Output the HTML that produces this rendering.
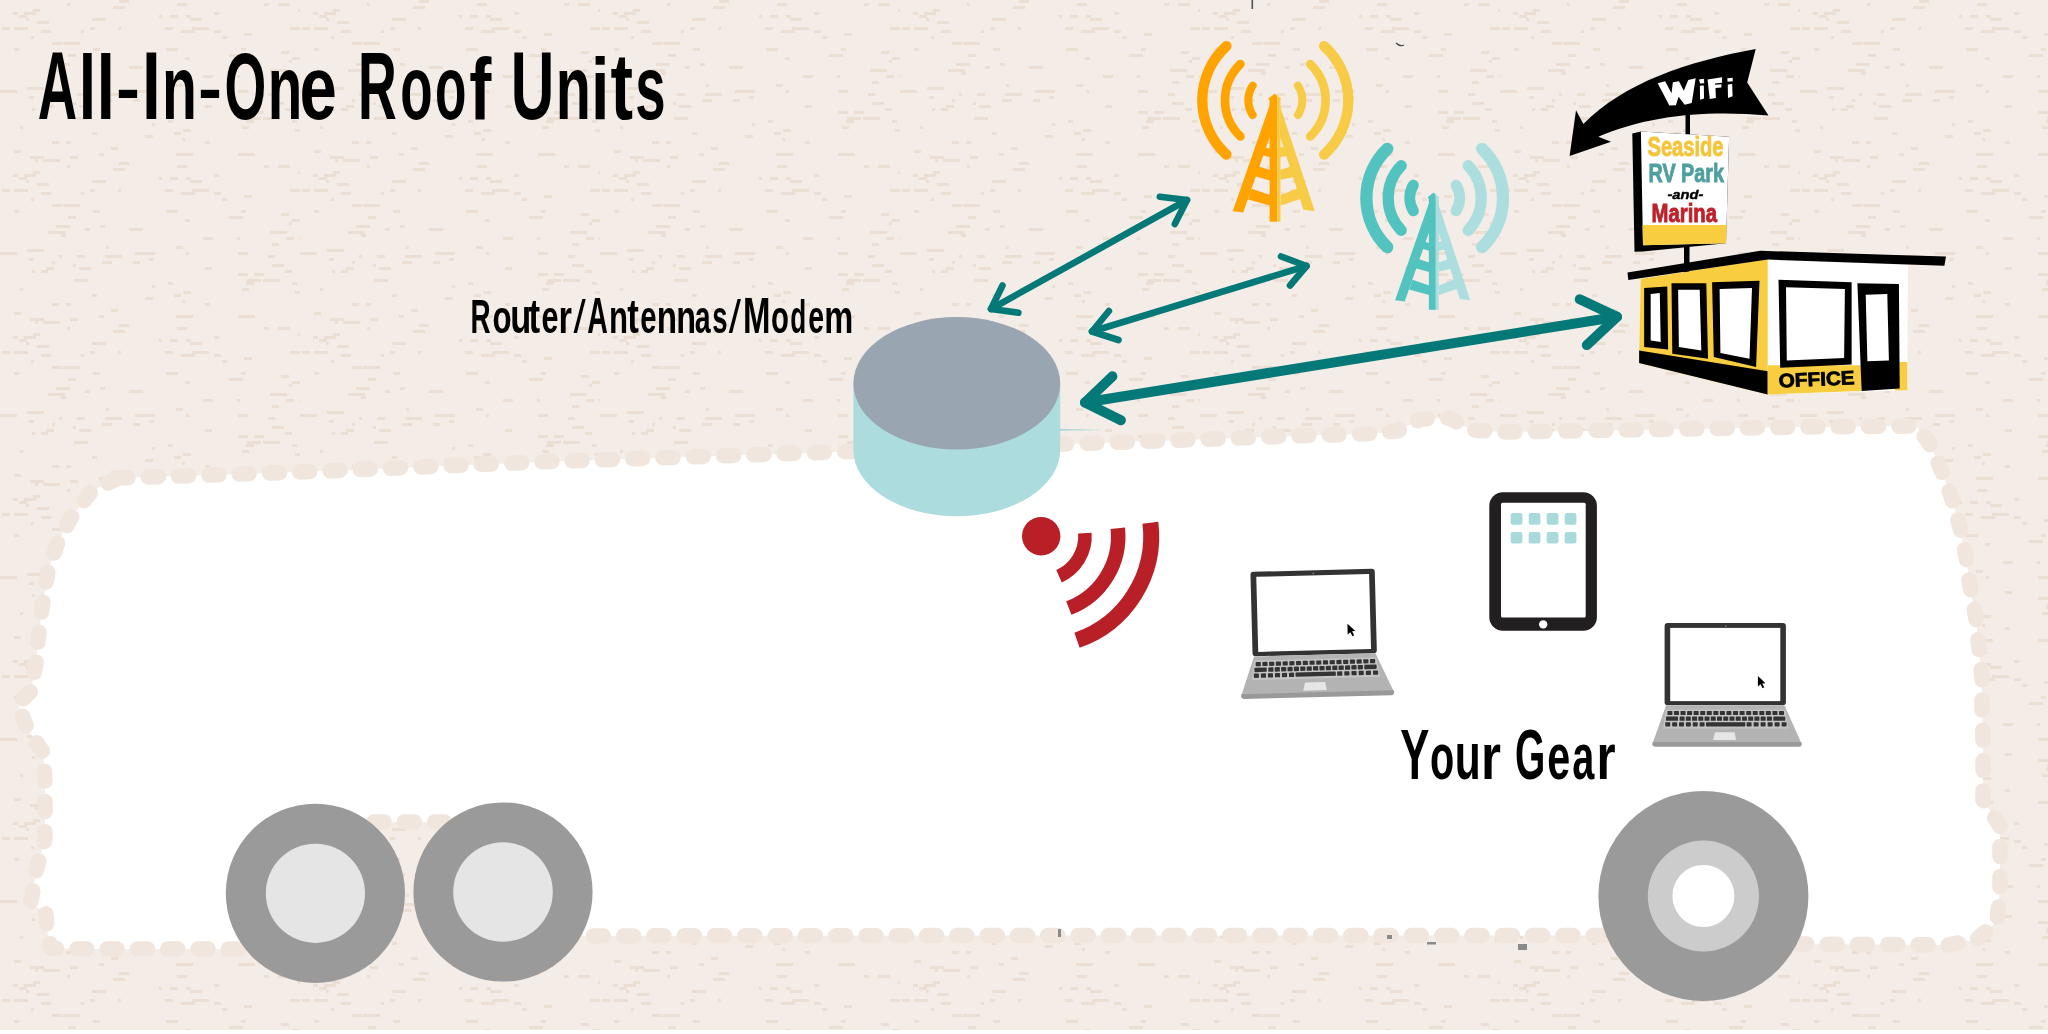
<!DOCTYPE html><html><head><meta charset="utf-8"><style>
html,body{margin:0;padding:0;width:2048px;height:1034px;overflow:hidden;background:#fff}
svg{display:block}
text{font-family:"Liberation Sans",sans-serif}
svg text{-webkit-font-smoothing:antialiased}
#root{will-change:transform}
</style></head><body>
<svg id="root" width="2048" height="1034" viewBox="0 0 2048 1034">
<defs>
<pattern id="tex" x="0" y="0" width="300" height="162" patternUnits="userSpaceOnUse">
<g fill="#ebdfd3"><rect x="165" y="27" width="8" height="3"/><rect x="24" y="12" width="12" height="3"/><rect x="48" y="69" width="14" height="3"/><rect x="29" y="96" width="5" height="3"/><rect x="19" y="15" width="8" height="3"/><rect x="214" y="12" width="5" height="3"/><rect x="46" y="105" width="8" height="3"/><rect x="30" y="156" width="14" height="3"/><rect x="63" y="42" width="17" height="3"/><rect x="298" y="9" width="14" height="3"/><rect x="299" y="75" width="3" height="3"/><rect x="113" y="6" width="12" height="3"/><rect x="68" y="54" width="8" height="3"/><rect x="73" y="102" width="3" height="3"/><rect x="292" y="57" width="12" height="3"/><rect x="92" y="18" width="14" height="3"/><rect x="292" y="120" width="5" height="3"/><rect x="190" y="18" width="12" height="3"/><rect x="32" y="108" width="3" height="3"/><rect x="105" y="93" width="17" height="3"/><rect x="272" y="81" width="7" height="3"/><rect x="238" y="111" width="10" height="3"/><rect x="185" y="57" width="5" height="3"/><rect x="92" y="132" width="5" height="3"/><rect x="41" y="108" width="7" height="3"/><rect x="268" y="93" width="7" height="3"/><rect x="229" y="54" width="14" height="3"/><rect x="37" y="21" width="12" height="3"/><rect x="214" y="30" width="7" height="3"/><rect x="77" y="93" width="8" height="3"/><rect x="20" y="126" width="3" height="3"/><rect x="285" y="108" width="7" height="3"/><rect x="174" y="132" width="7" height="3"/><rect x="254" y="111" width="10" height="3"/><rect x="35" y="159" width="3" height="3"/><rect x="138" y="90" width="17" height="3"/><rect x="33" y="9" width="7" height="3"/><rect x="295" y="129" width="10" height="3"/><rect x="145" y="135" width="8" height="3"/><rect x="177" y="3" width="10" height="3"/><rect x="181" y="30" width="14" height="3"/><rect x="59" y="93" width="3" height="3"/><rect x="111" y="147" width="7" height="3"/><rect x="66" y="141" width="5" height="3"/><rect x="203" y="75" width="10" height="3"/><rect x="41" y="30" width="10" height="3"/><rect x="205" y="105" width="7" height="3"/><rect x="70" y="156" width="8" height="3"/><rect x="281" y="51" width="8" height="3"/><rect x="183" y="129" width="8" height="3"/><rect x="118" y="27" width="3" height="3"/><rect x="90" y="27" width="5" height="3"/><rect x="119" y="0" width="10" height="3"/><rect x="93" y="48" width="7" height="3"/><rect x="2" y="27" width="8" height="3"/><rect x="273" y="69" width="14" height="3"/><rect x="289" y="60" width="3" height="3"/><rect x="263" y="117" width="17" height="3"/><rect x="27" y="87" width="17" height="3"/><rect x="286" y="75" width="8" height="3"/><rect x="204" y="75" width="3" height="3"/><rect x="246" y="120" width="8" height="3"/><rect x="31" y="36" width="3" height="3"/><rect x="106" y="84" width="3" height="3"/><rect x="56" y="63" width="14" height="3"/><rect x="26" y="18" width="3" height="3"/><rect x="290" y="27" width="12" height="3"/><rect x="51" y="69" width="14" height="3"/><rect x="13" y="12" width="5" height="3"/><rect x="192" y="27" width="17" height="3"/><rect x="129" y="66" width="14" height="3"/><rect x="186" y="90" width="3" height="3"/><rect x="59" y="162" width="10" height="3"/><rect x="238" y="90" width="10" height="3"/><rect x="159" y="15" width="3" height="3"/><rect x="52" y="141" width="7" height="3"/><rect x="135" y="90" width="3" height="3"/><rect x="264" y="3" width="5" height="3"/><rect x="270" y="69" width="3" height="3"/><rect x="278" y="3" width="12" height="3"/><rect x="152" y="123" width="3" height="3"/><rect x="133" y="99" width="7" height="3"/><rect x="85" y="66" width="5" height="3"/><rect x="272" y="102" width="12" height="3"/><rect x="168" y="120" width="5" height="3"/><rect x="99" y="153" width="5" height="3"/><rect x="205" y="141" width="5" height="3"/><rect x="102" y="99" width="10" height="3"/><rect x="182" y="138" width="3" height="3"/><rect x="14" y="150" width="7" height="3"/><rect x="241" y="48" width="5" height="3"/><rect x="176" y="84" width="7" height="3"/><rect x="186" y="15" width="5" height="3"/><rect x="52" y="42" width="10" height="3"/><rect x="100" y="63" width="5" height="3"/><rect x="247" y="117" width="14" height="3"/><rect x="0" y="90" width="17" height="3"/><rect x="176" y="153" width="17" height="3"/><rect x="43" y="159" width="17" height="3"/><rect x="61" y="72" width="5" height="3"/><rect x="244" y="33" width="8" height="3"/><rect x="170" y="15" width="8" height="3"/><rect x="237" y="75" width="3" height="3"/><rect x="81" y="30" width="3" height="3"/><rect x="14" y="27" width="14" height="3"/><rect x="238" y="153" width="17" height="3"/><rect x="74" y="117" width="14" height="3"/><rect x="242" y="126" width="7" height="3"/><rect x="79" y="105" width="12" height="3"/><rect x="67" y="3" width="3" height="3"/><rect x="52" y="99" width="3" height="3"/><rect x="222" y="36" width="5" height="3"/><rect x="14" y="48" width="5" height="3"/><rect x="149" y="96" width="5" height="3"/><rect x="166" y="48" width="12" height="3"/></g>
</pattern>
</defs>
<rect x="0" y="0" width="2048" height="1030" fill="#f4ece6"/>
<rect x="0" y="0" width="2048" height="1030" fill="url(#tex)"/>

<path d="M118,478 L300,472 L537,462 L805,453 L1067,444 L1184,440 L1306,435.6 L1368,433.7 L1397,431 L1421,419 L1449,418 L1472,430 L1502,432 L1625,430 L1800,427 L1916,426 L1928,441 L1940,467 L1951,496 L1960,528 L1966,557 L1970,586 L1976,619 L1979,649 L1982,678 L1982,710 L1983,742 L1983,771 L1983,800 L2000,826 L2000,858 L2000,890 L1997,922 L1977,939 L1948,945 L1800,944 L1703,944 L1703,935.5 L1060,935.5 L503,936 L503,822 L315,822 L315,949 L77,949 L51,948 L47,931 L46,914 L31,902 L36,871 L45,839 L45,810 L45,781 L43,752 L27,728 L18,704 L31,691 L36,663 L39,631 L43,601 L48,571 L58,542 L72,516 L92,491 Z" fill="#ffffff"/>
<path d="M118,478 L300,472 L537,462 L805,453 L1067,444 L1184,440 L1306,435.6 L1368,433.7 L1397,431 L1421,419 L1449,418 L1472,430 L1502,432 L1625,430 L1800,427 L1916,426 L1928,441 L1940,467 L1951,496 L1960,528 L1966,557 L1970,586 L1976,619 L1979,649 L1982,678 L1982,710 L1983,742 L1983,771 L1983,800 L2000,826 L2000,858 L2000,890 L1997,922 L1977,939 L1948,945 L1800,944 L1703,944 L1703,935.5 L1060,935.5 L503,936 L503,822 L315,822 L315,949 L77,949 L51,948 L47,931 L46,914 L31,902 L36,871 L45,839 L45,810 L45,781 L43,752 L27,728 L18,704 L31,691 L36,663 L39,631 L43,601 L48,571 L58,542 L72,516 L92,491 Z" fill="none" stroke="#f0e6dd" stroke-width="15.5" stroke-linecap="round" stroke-linejoin="round" stroke-dasharray="10 20.3"/>
<text transform="matrix(0.5448 0 0 0.9658 37.74 119.40)" font-size="100" font-weight="bold" fill="#000">A</text><text transform="matrix(0.6255 0 0 0.9159 78.72 119.40)" font-size="100" font-weight="bold" fill="#000">l</text><text transform="matrix(0.6691 0 0 0.9159 96.62 119.40)" font-size="100" font-weight="bold" fill="#000">l</text><text transform="matrix(0.7208 0 0 0.6917 115.92 111.93)" font-size="100" font-weight="bold" fill="#000">-</text><text transform="matrix(0.6737 0 0 0.9658 141.95 119.40)" font-size="100" font-weight="bold" fill="#000">I</text><text transform="matrix(0.5711 0 0 0.9060 162.09 119.40)" font-size="100" font-weight="bold" fill="#000">n</text><text transform="matrix(0.7208 0 0 0.6917 198.12 111.93)" font-size="100" font-weight="bold" fill="#000">-</text><text transform="matrix(0.5367 0 0 0.9520 224.55 119.40)" font-size="100" font-weight="bold" fill="#000">O</text><text transform="matrix(0.5649 0 0 0.9060 267.83 119.40)" font-size="100" font-weight="bold" fill="#000">n</text><text transform="matrix(0.6715 0 0 0.9060 299.51 119.40)" font-size="100" font-weight="bold" fill="#000">e</text><text transform="matrix(0.5375 0 0 0.9658 357.97 119.40)" font-size="100" font-weight="bold" fill="#000">R</text><text transform="matrix(0.5296 0 0 0.9060 400.18 119.40)" font-size="100" font-weight="bold" fill="#000">o</text><text transform="matrix(0.5146 0 0 0.9060 435.04 119.40)" font-size="100" font-weight="bold" fill="#000">o</text><text transform="matrix(0.6646 0 0 0.8772 469.14 119.40)" font-size="100" font-weight="bold" fill="#000">f</text><text transform="matrix(0.6033 0 0 0.9658 510.68 119.40)" font-size="100" font-weight="bold" fill="#000">U</text><text transform="matrix(0.5753 0 0 0.9060 555.76 119.40)" font-size="100" font-weight="bold" fill="#000">n</text><text transform="matrix(0.6618 0 0 0.8772 591.07 119.40)" font-size="100" font-weight="bold" fill="#000">i</text><text transform="matrix(0.6764 0 0 0.9364 610.55 119.40)" font-size="100" font-weight="bold" fill="#000">t</text><text transform="matrix(0.5458 0 0 0.9060 635.29 119.40)" font-size="100" font-weight="bold" fill="#000">s</text>
<text transform="matrix(0.2783 0 0 0.4902 470.42 332.50)" font-size="100" font-weight="bold" fill="#000">R</text><text transform="matrix(0.3117 0 0 0.4633 492.55 332.50)" font-size="100" font-weight="bold" fill="#000">o</text><text transform="matrix(0.3440 0 0 0.4720 510.25 332.50)" font-size="100" font-weight="bold" fill="#000">u</text><text transform="matrix(0.3480 0 0 0.4720 528.57 332.50)" font-size="100" font-weight="bold" fill="#000">t</text><text transform="matrix(0.3047 0 0 0.4633 541.38 332.50)" font-size="100" font-weight="bold" fill="#000">e</text><text transform="matrix(0.3452 0 0 0.4633 558.46 332.50)" font-size="100" font-weight="bold" fill="#000">r</text><text transform="matrix(0.4396 0 0 0.4648 573.40 332.50)" font-size="100" font-weight="normal" fill="#000">/</text><text transform="matrix(0.2851 0 0 0.4902 587.29 332.50)" font-size="100" font-weight="bold" fill="#000">A</text><text transform="matrix(0.3113 0 0 0.4633 608.98 332.50)" font-size="100" font-weight="bold" fill="#000">n</text><text transform="matrix(0.3480 0 0 0.4720 627.17 332.50)" font-size="100" font-weight="bold" fill="#000">t</text><text transform="matrix(0.2922 0 0 0.4633 640.13 332.50)" font-size="100" font-weight="bold" fill="#000">e</text><text transform="matrix(0.3320 0 0 0.4633 656.74 332.50)" font-size="100" font-weight="bold" fill="#000">n</text><text transform="matrix(0.3237 0 0 0.4633 676.30 332.50)" font-size="100" font-weight="bold" fill="#000">n</text><text transform="matrix(0.2854 0 0 0.4633 694.64 332.50)" font-size="100" font-weight="bold" fill="#000">a</text><text transform="matrix(0.2750 0 0 0.4633 712.14 332.50)" font-size="100" font-weight="bold" fill="#000">s</text><text transform="matrix(0.4396 0 0 0.4648 728.70 332.50)" font-size="100" font-weight="normal" fill="#000">/</text><text transform="matrix(0.3297 0 0 0.4902 743.07 332.50)" font-size="100" font-weight="bold" fill="#000">M</text><text transform="matrix(0.2930 0 0 0.4633 771.03 332.50)" font-size="100" font-weight="bold" fill="#000">o</text><text transform="matrix(0.2614 0 0 0.4648 790.15 332.50)" font-size="100" font-weight="bold" fill="#000">d</text><text transform="matrix(0.2839 0 0 0.4633 808.16 332.50)" font-size="100" font-weight="bold" fill="#000">e</text><text transform="matrix(0.3266 0 0 0.4633 824.28 332.50)" font-size="100" font-weight="bold" fill="#000">m</text>
<text transform="matrix(0.4364 0 0 0.7113 1400.34 778.90)" font-size="100" font-weight="bold" fill="#000">Y</text><text transform="matrix(0.3962 0 0 0.6549 1430.02 778.90)" font-size="100" font-weight="bold" fill="#000">o</text><text transform="matrix(0.4249 0 0 0.6673 1454.74 778.90)" font-size="100" font-weight="bold" fill="#000">u</text><text transform="matrix(0.5129 0 0 0.6549 1480.97 778.90)" font-size="100" font-weight="bold" fill="#000">r</text><text transform="matrix(0.3896 0 0 0.7011 1515.04 778.90)" font-size="100" font-weight="bold" fill="#000">G</text><text transform="matrix(0.4124 0 0 0.6549 1547.15 778.90)" font-size="100" font-weight="bold" fill="#000">e</text><text transform="matrix(0.3962 0 0 0.6549 1572.21 778.90)" font-size="100" font-weight="bold" fill="#000">a</text><text transform="matrix(0.4903 0 0 0.6549 1596.61 778.90)" font-size="100" font-weight="bold" fill="#000">r</text>
<path d="M853.4,383.3 L853.4,450 A103.4,66.2 0 0 0 1060.2,450 L1060.2,383.3 Z" fill="#acdcde"/>
<ellipse cx="956.8" cy="383.3" rx="103.4" ry="66.2" fill="#99a5b1"/>
<g fill="none" stroke="#057878" stroke-width="6.6" stroke-linecap="round" stroke-linejoin="round"><path d="M991,309 L1187,200"/><path d="M1002.5,285.5 L991,309 L1018.3,312.7"/><path d="M1159.8,196.7 L1187,200 L1174.8,224"/></g>
<g fill="none" stroke="#057878" stroke-width="6.6" stroke-linecap="round" stroke-linejoin="round"><path d="M1092,331.5 L1306.5,266"/><path d="M1108.9,311 L1092,331.5 L1118.5,340"/><path d="M1281.1,256.5 L1306.5,266 L1290,285.5"/></g>
<g fill="none" stroke="#057878" stroke-width="10" stroke-linecap="round" stroke-linejoin="round"><path d="M1085,402.5 L1617,316.8"/><path d="M1112.4,376.3 L1085,402.5 L1120.9,420.2"/><path d="M1579.7,299.3 L1617,316.8 L1586.8,345.1"/></g>
<circle cx="315.4" cy="893.3" r="89.6" fill="#9a9a9a"/><circle cx="315.4" cy="893.3" r="49.6" fill="#e5e5e5"/>
<circle cx="503" cy="892" r="89.6" fill="#9a9a9a"/><circle cx="503" cy="892" r="49.8" fill="#e5e5e5"/>
<circle cx="1703.4" cy="896" r="105" fill="#9a9a9a"/><circle cx="1703.4" cy="896" r="55.6" fill="#cccccc"/><circle cx="1703.4" cy="896" r="31" fill="#ffffff"/>
<path d="M1226.45,154.55 A73,73 0 0 1 1226.45,46.05" fill="none" stroke="#ffa300" stroke-width="10.3" stroke-linecap="round"/><path d="M1324.15,46.05 A73,73 0 0 1 1324.15,154.55" fill="none" stroke="#f7cb46" stroke-width="10.3" stroke-linecap="round"/><path d="M1240.36,136.48 A50.3,50.3 0 0 1 1240.36,64.12" fill="none" stroke="#ffa300" stroke-width="8.7" stroke-linecap="round"/><path d="M1310.24,64.12 A50.3,50.3 0 0 1 1310.24,136.48" fill="none" stroke="#f7cb46" stroke-width="8.7" stroke-linecap="round"/><path d="M1252.66,115.01 A27,27 0 0 1 1252.66,85.59" fill="none" stroke="#ffa300" stroke-width="8" stroke-linecap="round"/><path d="M1297.94,85.59 A27,27 0 0 1 1297.94,115.01" fill="none" stroke="#f7cb46" stroke-width="8" stroke-linecap="round"/>
<g transform=""><clipPath id="tw1L"><rect x="1100" y="0" width="177.2" height="400"/></clipPath><clipPath id="tw1R"><rect x="1277.2" y="0" width="200" height="400"/></clipPath><g fill="#ffa300" clip-path="url(#tw1L)"><polygon points="1274.8,93.5 1268.3,98.6 1272,104 1277.2,104 1277.2,96"/><polygon points="1274.8,93.5 1281,98.6 1278,104 1277.2,104 1277.2,96"/><polygon points="1271.5,100 1232.7,211.2 1243.2,212.6 1269.8,137 1277.2,137 1277.2,100"/><polygon points="1278,100 1314.8,211.2 1303.5,209.8 1280.2,137 1277.2,137 1277.2,100"/><rect x="1269.6" y="100" width="10.8" height="121.7"/><polygon points="1265,147.4 1270,148.8 1270,157.2 1262.2,155.1"/><polygon points="1258,166.3 1270,169.9 1270,180.4 1255.2,176.2"/><polygon points="1251.6,188.8 1270,195.1 1270,205.5 1248,199.5"/><polygon points="1279.4,147.4 1285.3,146.7 1288.8,155.4 1279.7,157.2"/><polygon points="1280,169.9 1291.6,166.3 1294.4,176.9 1280.4,179.7"/><polygon points="1280.7,195.1 1298.6,188.1 1301.8,198.5 1280.7,205.5"/></g><g fill="#f7cb46" clip-path="url(#tw1R)"><polygon points="1274.8,93.5 1268.3,98.6 1272,104 1277.2,104 1277.2,96"/><polygon points="1274.8,93.5 1281,98.6 1278,104 1277.2,104 1277.2,96"/><polygon points="1271.5,100 1232.7,211.2 1243.2,212.6 1269.8,137 1277.2,137 1277.2,100"/><polygon points="1278,100 1314.8,211.2 1303.5,209.8 1280.2,137 1277.2,137 1277.2,100"/><rect x="1269.6" y="100" width="10.8" height="121.7"/><polygon points="1265,147.4 1270,148.8 1270,157.2 1262.2,155.1"/><polygon points="1258,166.3 1270,169.9 1270,180.4 1255.2,176.2"/><polygon points="1251.6,188.8 1270,195.1 1270,205.5 1248,199.5"/><polygon points="1279.4,147.4 1285.3,146.7 1288.8,155.4 1279.7,157.2"/><polygon points="1280,169.9 1291.6,166.3 1294.4,176.9 1280.4,179.7"/><polygon points="1280.7,195.1 1298.6,188.1 1301.8,198.5 1280.7,205.5"/></g></g>
<path d="M1387.25,247.13 A68.3,68.3 0 0 1 1387.25,148.87" fill="none" stroke="#52c3bf" stroke-width="12.3" stroke-linecap="round"/><path d="M1482.15,148.87 A68.3,68.3 0 0 1 1482.15,247.13" fill="none" stroke="#acdedf" stroke-width="12.3" stroke-linecap="round"/><path d="M1401.25,230.30 A46.5,46.5 0 0 1 1401.25,165.70" fill="none" stroke="#52c3bf" stroke-width="11.2" stroke-linecap="round"/><path d="M1468.15,165.70 A46.5,46.5 0 0 1 1468.15,230.30" fill="none" stroke="#acdedf" stroke-width="11.2" stroke-linecap="round"/><path d="M1413.36,210.82 A24.9,24.9 0 0 1 1413.36,185.18" fill="none" stroke="#52c3bf" stroke-width="11" stroke-linecap="round"/><path d="M1456.04,185.18 A24.9,24.9 0 0 1 1456.04,210.82" fill="none" stroke="#acdedf" stroke-width="11" stroke-linecap="round"/>
<g transform="translate(267.16,106.95) scale(0.915)"><clipPath id="tw2L"><rect x="1100" y="0" width="177.2" height="400"/></clipPath><clipPath id="tw2R"><rect x="1277.2" y="0" width="200" height="400"/></clipPath><g fill="#52c3bf" clip-path="url(#tw2L)"><polygon points="1274.8,93.5 1268.3,98.6 1272,104 1277.2,104 1277.2,96"/><polygon points="1274.8,93.5 1281,98.6 1278,104 1277.2,104 1277.2,96"/><polygon points="1271.5,100 1232.7,211.2 1243.2,212.6 1269.8,137 1277.2,137 1277.2,100"/><polygon points="1278,100 1314.8,211.2 1303.5,209.8 1280.2,137 1277.2,137 1277.2,100"/><rect x="1269.6" y="100" width="10.8" height="121.7"/><polygon points="1265,147.4 1270,148.8 1270,157.2 1262.2,155.1"/><polygon points="1258,166.3 1270,169.9 1270,180.4 1255.2,176.2"/><polygon points="1251.6,188.8 1270,195.1 1270,205.5 1248,199.5"/><polygon points="1279.4,147.4 1285.3,146.7 1288.8,155.4 1279.7,157.2"/><polygon points="1280,169.9 1291.6,166.3 1294.4,176.9 1280.4,179.7"/><polygon points="1280.7,195.1 1298.6,188.1 1301.8,198.5 1280.7,205.5"/></g><g fill="#acdedf" clip-path="url(#tw2R)"><polygon points="1274.8,93.5 1268.3,98.6 1272,104 1277.2,104 1277.2,96"/><polygon points="1274.8,93.5 1281,98.6 1278,104 1277.2,104 1277.2,96"/><polygon points="1271.5,100 1232.7,211.2 1243.2,212.6 1269.8,137 1277.2,137 1277.2,100"/><polygon points="1278,100 1314.8,211.2 1303.5,209.8 1280.2,137 1277.2,137 1277.2,100"/><rect x="1269.6" y="100" width="10.8" height="121.7"/><polygon points="1265,147.4 1270,148.8 1270,157.2 1262.2,155.1"/><polygon points="1258,166.3 1270,169.9 1270,180.4 1255.2,176.2"/><polygon points="1251.6,188.8 1270,195.1 1270,205.5 1248,199.5"/><polygon points="1279.4,147.4 1285.3,146.7 1288.8,155.4 1279.7,157.2"/><polygon points="1280,169.9 1291.6,166.3 1294.4,176.9 1280.4,179.7"/><polygon points="1280.7,195.1 1298.6,188.1 1301.8,198.5 1280.7,205.5"/></g></g>
<circle cx="1041.2" cy="536.2" r="19.2" fill="#b91f27"/>
<path d="M1084.89,533.14 A43.8,43.8 0 0 1 1059.02,576.21" fill="none" stroke="#b91f27" stroke-width="13.5"/>
<path d="M1117.78,528.15 A77,77 0 0 1 1068.79,608.09" fill="none" stroke="#b91f27" stroke-width="14.5"/>
<path d="M1150.38,522.79 A110,110 0 0 1 1077.01,640.21" fill="none" stroke="#b91f27" stroke-width="16"/>
<g><rect x="1664.6" y="622.9" width="121.3" height="82.4" rx="3" fill="#333333"/><rect x="1670.2" y="627.9" width="110.1" height="73.2" fill="#ffffff"/><polygon points="1666,705.5 1784.5,705.5 1801.3,743 1652.7,743" fill="#b3b3b3"/><path d="M1652.7,742 L1801.3,742 L1801.8,744.5 Q1801.5,746.7 1799,746.7 L1655,746.7 Q1652.5,746.5 1652.3,744.5 Z" fill="#999999"/><polygon points="1666,709.5 1785.2,709.5 1788.7,728.5 1663.2,728.5" fill="#c4c4c4"/><g fill="#333333"><rect x="1667.40" y="711" width="5.0" height="4.1" rx="0.6"/><rect x="1673.96" y="711" width="5.0" height="4.1" rx="0.6"/><rect x="1680.53" y="711" width="5.0" height="4.1" rx="0.6"/><rect x="1687.09" y="711" width="5.0" height="4.1" rx="0.6"/><rect x="1693.66" y="711" width="5.0" height="4.1" rx="0.6"/><rect x="1700.22" y="711" width="5.0" height="4.1" rx="0.6"/><rect x="1706.79" y="711" width="5.0" height="4.1" rx="0.6"/><rect x="1713.35" y="711" width="5.0" height="4.1" rx="0.6"/><rect x="1719.92" y="711" width="5.0" height="4.1" rx="0.6"/><rect x="1726.48" y="711" width="5.0" height="4.1" rx="0.6"/><rect x="1733.05" y="711" width="5.0" height="4.1" rx="0.6"/><rect x="1739.61" y="711" width="5.0" height="4.1" rx="0.6"/><rect x="1746.18" y="711" width="5.0" height="4.1" rx="0.6"/><rect x="1752.74" y="711" width="5.0" height="4.1" rx="0.6"/><rect x="1759.31" y="711" width="5.0" height="4.1" rx="0.6"/><rect x="1765.87" y="711" width="5.0" height="4.1" rx="0.6"/><rect x="1772.44" y="711" width="5.0" height="4.1" rx="0.6"/><rect x="1779.00" y="711" width="5.0" height="4.1" rx="0.6"/><rect x="1666" y="716.5" width="12" height="4.3" rx="0.6"/><rect x="1679.60" y="716.5" width="5" height="4.3" rx="0.6"/><rect x="1685.84" y="716.5" width="5" height="4.3" rx="0.6"/><rect x="1692.07" y="716.5" width="5" height="4.3" rx="0.6"/><rect x="1698.31" y="716.5" width="5" height="4.3" rx="0.6"/><rect x="1704.54" y="716.5" width="5" height="4.3" rx="0.6"/><rect x="1710.78" y="716.5" width="5" height="4.3" rx="0.6"/><rect x="1717.01" y="716.5" width="5" height="4.3" rx="0.6"/><rect x="1723.25" y="716.5" width="5" height="4.3" rx="0.6"/><rect x="1729.49" y="716.5" width="5" height="4.3" rx="0.6"/><rect x="1735.72" y="716.5" width="5" height="4.3" rx="0.6"/><rect x="1741.96" y="716.5" width="5" height="4.3" rx="0.6"/><rect x="1748.19" y="716.5" width="5" height="4.3" rx="0.6"/><rect x="1754.43" y="716.5" width="5" height="4.3" rx="0.6"/><rect x="1760.66" y="716.5" width="5" height="4.3" rx="0.6"/><rect x="1766.90" y="716.5" width="5" height="4.3" rx="0.6"/><rect x="1773.3" y="716.5" width="12" height="4.3" rx="0.6"/><rect x="1665.30" y="722.2" width="5" height="4.2" rx="0.6"/><rect x="1672.16" y="722.2" width="5" height="4.2" rx="0.6"/><rect x="1679.02" y="722.2" width="5" height="4.2" rx="0.6"/><rect x="1685.88" y="722.2" width="5" height="4.2" rx="0.6"/><rect x="1692.74" y="722.2" width="5" height="4.2" rx="0.6"/><rect x="1699.60" y="722.2" width="5" height="4.2" rx="0.6"/><rect x="1706" y="722.2" width="39.3" height="4.2" rx="0.6"/><rect x="1746.60" y="722.2" width="5" height="4.2" rx="0.6"/><rect x="1753.60" y="722.2" width="5" height="4.2" rx="0.6"/><rect x="1760.60" y="722.2" width="5" height="4.2" rx="0.6"/><rect x="1767.60" y="722.2" width="5" height="4.2" rx="0.6"/><rect x="1774.60" y="722.2" width="5" height="4.2" rx="0.6"/><rect x="1781.60" y="722.2" width="5" height="4.2" rx="0.6"/></g><polygon points="1715.1,732.2 1734.7,732.2 1736.1,740.1 1713,740.1" fill="#e6e6e6"/><path d="M1757.9,675.9 L1757.9,686.5 L1760.5,684.2 L1762.5,688.2 L1764.2,687.3 L1762.3,683.4 L1765.5,683.2 Z" fill="#000"/><circle cx="1725.9" cy="626.1" r="0.9" fill="#777"/></g>
<g transform="translate(1250.4,571.9) rotate(-1.5) scale(1.025) translate(-1664.6,-622.9)"><rect x="1664.6" y="622.9" width="121.3" height="82.4" rx="3" fill="#333333"/><rect x="1670.2" y="627.9" width="110.1" height="73.2" fill="#ffffff"/><polygon points="1666,705.5 1784.5,705.5 1801.3,743 1652.7,743" fill="#b3b3b3"/><path d="M1652.7,742 L1801.3,742 L1801.8,744.5 Q1801.5,746.7 1799,746.7 L1655,746.7 Q1652.5,746.5 1652.3,744.5 Z" fill="#999999"/><polygon points="1666,709.5 1785.2,709.5 1788.7,728.5 1663.2,728.5" fill="#c4c4c4"/><g fill="#333333"><rect x="1667.40" y="711" width="5.0" height="4.1" rx="0.6"/><rect x="1673.96" y="711" width="5.0" height="4.1" rx="0.6"/><rect x="1680.53" y="711" width="5.0" height="4.1" rx="0.6"/><rect x="1687.09" y="711" width="5.0" height="4.1" rx="0.6"/><rect x="1693.66" y="711" width="5.0" height="4.1" rx="0.6"/><rect x="1700.22" y="711" width="5.0" height="4.1" rx="0.6"/><rect x="1706.79" y="711" width="5.0" height="4.1" rx="0.6"/><rect x="1713.35" y="711" width="5.0" height="4.1" rx="0.6"/><rect x="1719.92" y="711" width="5.0" height="4.1" rx="0.6"/><rect x="1726.48" y="711" width="5.0" height="4.1" rx="0.6"/><rect x="1733.05" y="711" width="5.0" height="4.1" rx="0.6"/><rect x="1739.61" y="711" width="5.0" height="4.1" rx="0.6"/><rect x="1746.18" y="711" width="5.0" height="4.1" rx="0.6"/><rect x="1752.74" y="711" width="5.0" height="4.1" rx="0.6"/><rect x="1759.31" y="711" width="5.0" height="4.1" rx="0.6"/><rect x="1765.87" y="711" width="5.0" height="4.1" rx="0.6"/><rect x="1772.44" y="711" width="5.0" height="4.1" rx="0.6"/><rect x="1779.00" y="711" width="5.0" height="4.1" rx="0.6"/><rect x="1666" y="716.5" width="12" height="4.3" rx="0.6"/><rect x="1679.60" y="716.5" width="5" height="4.3" rx="0.6"/><rect x="1685.84" y="716.5" width="5" height="4.3" rx="0.6"/><rect x="1692.07" y="716.5" width="5" height="4.3" rx="0.6"/><rect x="1698.31" y="716.5" width="5" height="4.3" rx="0.6"/><rect x="1704.54" y="716.5" width="5" height="4.3" rx="0.6"/><rect x="1710.78" y="716.5" width="5" height="4.3" rx="0.6"/><rect x="1717.01" y="716.5" width="5" height="4.3" rx="0.6"/><rect x="1723.25" y="716.5" width="5" height="4.3" rx="0.6"/><rect x="1729.49" y="716.5" width="5" height="4.3" rx="0.6"/><rect x="1735.72" y="716.5" width="5" height="4.3" rx="0.6"/><rect x="1741.96" y="716.5" width="5" height="4.3" rx="0.6"/><rect x="1748.19" y="716.5" width="5" height="4.3" rx="0.6"/><rect x="1754.43" y="716.5" width="5" height="4.3" rx="0.6"/><rect x="1760.66" y="716.5" width="5" height="4.3" rx="0.6"/><rect x="1766.90" y="716.5" width="5" height="4.3" rx="0.6"/><rect x="1773.3" y="716.5" width="12" height="4.3" rx="0.6"/><rect x="1665.30" y="722.2" width="5" height="4.2" rx="0.6"/><rect x="1672.16" y="722.2" width="5" height="4.2" rx="0.6"/><rect x="1679.02" y="722.2" width="5" height="4.2" rx="0.6"/><rect x="1685.88" y="722.2" width="5" height="4.2" rx="0.6"/><rect x="1692.74" y="722.2" width="5" height="4.2" rx="0.6"/><rect x="1699.60" y="722.2" width="5" height="4.2" rx="0.6"/><rect x="1706" y="722.2" width="39.3" height="4.2" rx="0.6"/><rect x="1746.60" y="722.2" width="5" height="4.2" rx="0.6"/><rect x="1753.60" y="722.2" width="5" height="4.2" rx="0.6"/><rect x="1760.60" y="722.2" width="5" height="4.2" rx="0.6"/><rect x="1767.60" y="722.2" width="5" height="4.2" rx="0.6"/><rect x="1774.60" y="722.2" width="5" height="4.2" rx="0.6"/><rect x="1781.60" y="722.2" width="5" height="4.2" rx="0.6"/></g><polygon points="1715.1,732.2 1734.7,732.2 1736.1,740.1 1713,740.1" fill="#e6e6e6"/><path d="M1757.9,675.9 L1757.9,686.5 L1760.5,684.2 L1762.5,688.2 L1764.2,687.3 L1762.3,683.4 L1765.5,683.2 Z" fill="#000"/><circle cx="1725.9" cy="626.1" r="0.9" fill="#777"/></g>
<rect x="1489.3" y="492.2" width="107.6" height="138.5" rx="13.5" fill="#231f20"/>
<rect x="1501" y="502.7" width="84.7" height="114.9" rx="1.5" fill="#ffffff"/>
<circle cx="1543.2" cy="624.4" r="4.2" fill="#ffffff"/>
<rect x="1510.7" y="513" width="11.7" height="11.7" rx="2" fill="#a8dadc"/>
<rect x="1528.7" y="513" width="11.7" height="11.7" rx="2" fill="#a8dadc"/>
<rect x="1546.7" y="513" width="11.7" height="11.7" rx="2" fill="#a8dadc"/>
<rect x="1564.7" y="513" width="11.7" height="11.7" rx="2" fill="#a8dadc"/>
<rect x="1510.7" y="531.9" width="11.7" height="11.7" rx="2" fill="#a8dadc"/>
<rect x="1528.7" y="531.9" width="11.7" height="11.7" rx="2" fill="#a8dadc"/>
<rect x="1546.7" y="531.9" width="11.7" height="11.7" rx="2" fill="#a8dadc"/>
<rect x="1564.7" y="531.9" width="11.7" height="11.7" rx="2" fill="#a8dadc"/>
<path d="M1569.6,156 L1576,110.2 L1583.4,124 C1623.8,82.6 1687.7,61.3 1755.7,48.9 L1747.2,82.6 L1768.5,115.5 C1708.9,110.2 1649.4,114.5 1598.3,136.8 L1611,141.7 Z" fill="#000"/>
<g fill="#fff"><polygon points="1657.69,83.18 1665.16,81.20 1671.53,93.29 1672.85,82.30 1679.00,81.20 1683.83,90.65 1688.22,79.89 1695.69,78.13 1691.74,102.95 1684.71,104.71 1678.56,96.80 1675.92,105.15 1669.33,105.59"/><polygon points="1698.99,79.45 1703.82,78.79 1704.26,83.18 1700.09,83.40"/><polygon points="1699.87,85.82 1703.82,85.38 1704.04,98.56 1700.09,99.66"/><polygon points="1707.56,79.45 1722.06,77.25 1722.06,82.74 1715.03,83.40 1715.03,84.72 1721.40,84.28 1721.40,87.57 1715.47,88.01 1715.91,98.12 1709.75,99.00"/><polygon points="1727.33,78.35 1732.60,77.69 1732.82,81.20 1727.55,81.64"/><polygon points="1727.77,84.50 1732.16,84.06 1732.60,96.36 1727.99,97.90"/></g>
<rect x="1685.5" y="110" width="4.5" height="25" fill="#000"/>
<rect x="1684" y="240" width="5.5" height="40" fill="#000"/>
<polygon points="1632.3,133.6 1640.9,131.5 1729.1,136.8 1726,243.2 1643,251.5 1634.5,251.7" fill="#000"/>
<polygon points="1640.9,131.5 1729.1,136.8 1726,243.2 1643,245.3" fill="#fff"/>
<polygon points="1642.6,225 1726.6,225 1726,243.2 1643,245.3" fill="#f8cd3f"/>
<text x="1647.5" y="156" font-size="27.5" font-weight="bold" fill="#f5c43a" stroke="#f5c43a" stroke-width="0.9" textLength="76" lengthAdjust="spacingAndGlyphs">Seaside</text>
<text x="1648.5" y="181.5" font-size="26.3" font-weight="bold" fill="#4f9fa0" stroke="#4f9fa0" stroke-width="0.9" textLength="75.5" lengthAdjust="spacingAndGlyphs">RV Park</text>
<text x="1667.4" y="198.8" font-size="13.5" font-weight="bold" font-style="italic" fill="#000" stroke="#000" stroke-width="0.4" textLength="36" lengthAdjust="spacingAndGlyphs">-and-</text>
<text x="1651.5" y="221.9" font-size="26.3" font-weight="bold" fill="#c0202a" stroke="#c0202a" stroke-width="0.9" textLength="65.5" lengthAdjust="spacingAndGlyphs">Marina</text>
<polygon points="1640.8,279 1767.8,259.1 1767.8,394.4 1639.1,362.9" fill="#f8cd3f"/>
<polygon points="1639.1,350.4 1767.8,371.2 1767.8,394.4 1639.1,362.9" fill="#000"/>
<polygon points="1767.8,259.1 1908,264.9 1907.2,390.2 1767.8,394.4" fill="#fff"/>
<polygon points="1767.8,365.3 1861,365.3 1861,391 1767.8,394.4" fill="#f8cd3f"/>
<polygon points="1895,362 1907.2,362 1907.2,390.2 1895,390.5" fill="#f8cd3f"/>
<polygon points="1644.1,288.1 1667.3,286.5 1668.1,349.6 1644.1,347.1" fill="#000"/><polygon points="1650.7,294 1659.8,293.1 1660.7,342.1 1650.7,340.4" fill="#fff"/>
<polygon points="1671.5,283.2 1706.3,283.2 1708,358.7 1672.3,353.7" fill="#000"/><polygon points="1678.1,289.8 1699.7,289.8 1701.3,350.4 1678.9,347.1" fill="#fff"/>
<polygon points="1712.1,282.3 1759.5,280.7 1756.1,367 1713.8,357" fill="#000"/><polygon points="1719.6,289 1752,288.1 1749.5,358.7 1720.4,352.9" fill="#fff"/>
<polygon points="1778.5,279.8 1851.6,282.3 1851.6,364.5 1780.2,367.8" fill="#000"/><polygon points="1786,287.3 1844.9,289 1844.1,357.9 1786.8,360.4" fill="#fff"/>
<polygon points="1857.4,283.2 1898.9,284 1899.7,388.6 1861.6,391.1" fill="#000"/><polygon points="1865.7,294.8 1887.3,294 1888.9,360.4 1867.4,361.2" fill="#fff"/>
<polygon points="1627.5,272.5 1760.3,250.8 1946,256.6 1944.4,265.7 1767.8,259.6 1628.3,280" fill="#000"/>
<text x="0" y="0" transform="translate(1779,387.5) rotate(-2.5)" font-size="19.5" font-weight="bold" fill="#000" stroke="#000" stroke-width="0.8" textLength="76" lengthAdjust="spacingAndGlyphs">OFFICE</text>
<rect x="1251.5" y="0" width="1.6" height="9" fill="#555"/>
<path d="M1396,43 Q1400,47 1404,45" fill="none" stroke="#444" stroke-width="1.3"/>
<linearGradient id="lg1" x1="1060" y1="0" x2="1102" y2="0" gradientUnits="userSpaceOnUse"><stop offset="0" stop-color="#9fd6d6"/><stop offset="1" stop-color="#e6ebe4"/></linearGradient>
<rect x="1059" y="429" width="43" height="1.6" fill="url(#lg1)"/>
<g fill="#8a8a8a"><rect x="1058" y="929" width="3" height="8"/><rect x="1387" y="935" width="5" height="4"/><rect x="1427" y="942" width="9" height="2.5"/><rect x="1518" y="944" width="9" height="6"/></g>
</svg></body></html>
